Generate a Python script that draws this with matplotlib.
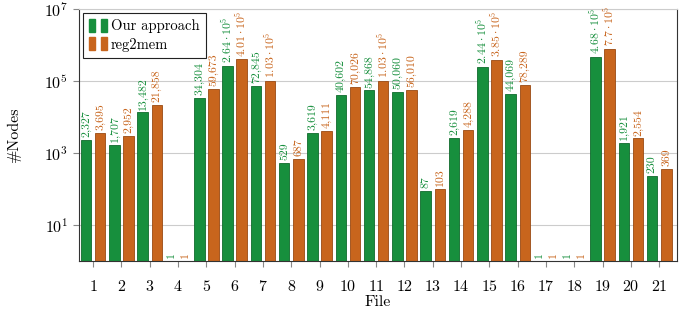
import matplotlib
matplotlib.use("Agg")
import numpy as np
import matplotlib.pyplot as plt
from matplotlib.patches import Rectangle
from matplotlib.legend_handler import HandlerBase

plt.rcParams['font.family'] = ['cmr10', 'DejaVu Serif']
plt.rcParams['mathtext.fontset'] = 'cm'
plt.rcParams['axes.formatter.use_mathtext'] = True

files = list(range(1, 22))
ours = [2327, 1707, 13482, 1, 34304, 2.64e5, 72845, 529, 3619, 40602, 54868,
        50060, 87, 2619, 2.44e5, 44069, 1, 1, 4.68e5, 1921, 230]
reg2mem = [3695, 2952, 21858, 1, 59673, 4.01e5, 1.03e5, 687, 4111, 70026, 1.03e5,
           56010, 103, 4288, 3.85e5, 78289, 1, 1, 7.7e5, 2554, 369]

green = '#178f3d'
orange = '#c8651d'


def fmt(v):
    # pgfplots style labels: comma grouping, sci notation from 1e5 up
    if v >= 1e5:
        m = v / 1e5
        s = ('%.2f' % m).rstrip('0').rstrip('.')
        return r'$%s\cdot10^{5}$' % s
    return '{:,}'.format(int(v))


class TwoBars(HandlerBase):
    # legend icon with two small bars like pgfplots ybar legend
    def create_artists(self, legend, orig, xd, yd, w, h, fontsize, trans):
        c = orig.get_facecolor()
        bw = w * 0.35
        r1 = Rectangle((xd, yd - 0.15 * h), bw, h * 1.3, facecolor=c, edgecolor=c, transform=trans)
        r2 = Rectangle((xd + w - bw, yd - 0.15 * h), bw, h * 1.3, facecolor=c, edgecolor=c, transform=trans)
        return [r1, r2]


fig = plt.figure(figsize=(6.85, 3.14), dpi=100)
ax = fig.add_axes([0.1153, 0.169, 0.8727, 0.802])

x = np.array(files)
off = 0.25
w = 0.37
b1 = ax.bar(x - off, ours, w, color=green, edgecolor='#0f6a2c', linewidth=0.6, label='Our approach', zorder=2)
b2 = ax.bar(x + off, reg2mem, w, color=orange, edgecolor='#9a4a12', linewidth=0.6, label='reg2mem', zorder=2)
for bars, vals in [(b1, ours), (b2, reg2mem)]:
    for p, v in zip(bars.patches, vals):
        if v <= 1:
            p.set_linewidth(0)

ax.set_yscale('log')
ax.set_ylim(1, 1e7)
ax.set_xlim(0.5, 21.62)
ax.set_yticks([1e1, 1e3, 1e5, 1e7])
ax.yaxis.set_minor_locator(matplotlib.ticker.NullLocator())
ax.set_xticks(files)
ax.grid(axis='y', color='#cccccc', linewidth=0.8, zorder=0)
ax.set_axisbelow(True)

for xs, vals, col in [(x - off, ours, green), (x + off, reg2mem, orange)]:
    for xi, v in zip(xs, vals):
        ax.annotate(fmt(v), (xi, v), xytext=(0, 2), textcoords='offset points',
                    rotation=90, ha='center', va='bottom', fontsize=8.5, color=col)

ax.tick_params(axis='both', labelsize=11.5, color='#888888', length=4)
ax.tick_params(axis='x', pad=9)
ax.tick_params(axis='y', pad=4)
ax.set_xlabel('File', fontsize=11.5, labelpad=1)
ax.set_ylabel('#Nodes', fontsize=11.5, labelpad=16)

for s in ['left', 'right', 'bottom']:
    ax.spines[s].set_color('#333333')
ax.spines['top'].set_color('#cccccc')

leg = ax.legend(handler_map={b1.patches[0].__class__: TwoBars()},
                handles=[b1.patches[0], b2.patches[0]], labels=['Our approach', 'reg2mem'],
                loc='upper left', fontsize=10.5, fancybox=False, edgecolor='#222222',
                framealpha=1, handlelength=1.2, handletextpad=0.3, borderaxespad=0.3,
                labelspacing=0.3, borderpad=0.4)
leg.get_frame().set_linewidth(0.8)

fig.savefig('out.png', dpi=100)
